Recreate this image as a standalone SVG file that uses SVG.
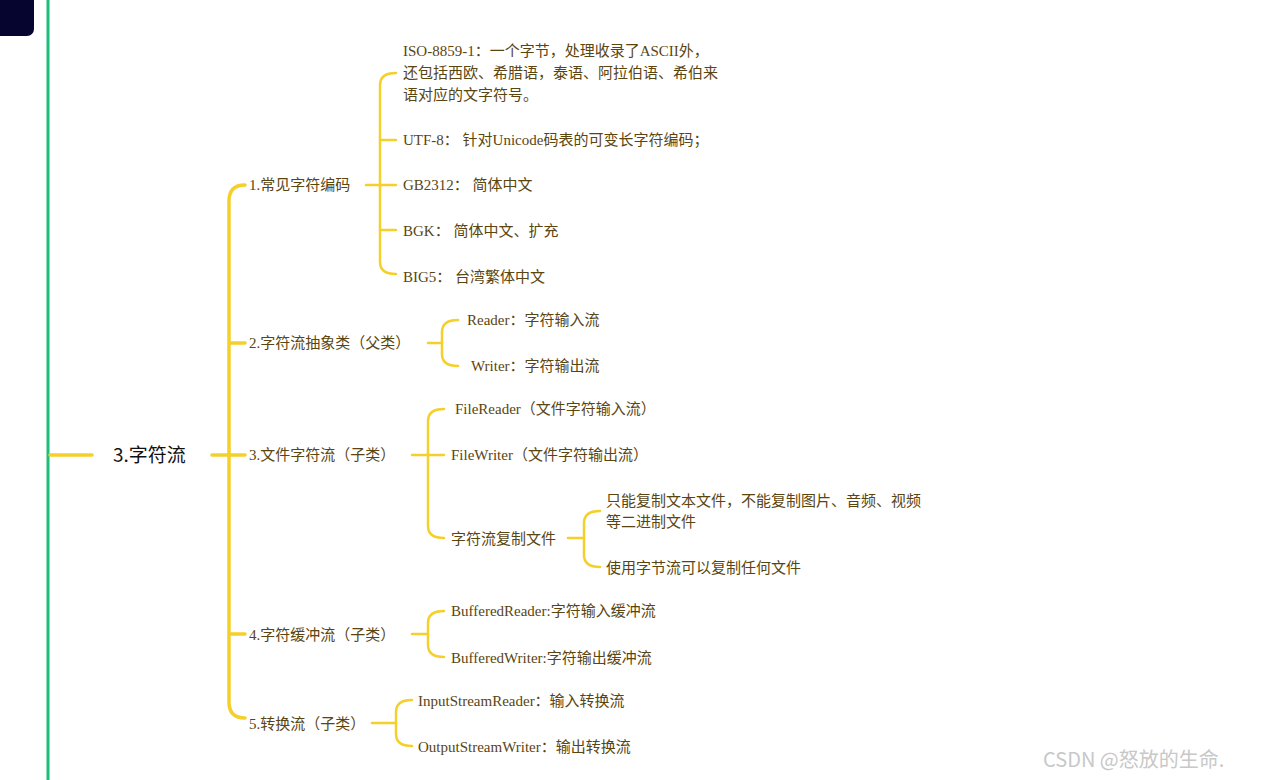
<svg xmlns="http://www.w3.org/2000/svg" width="1269" height="780" viewBox="0 0 1269 780">
<style>
.t{font-family:"Liberation Serif","Noto Sans CJK SC",serif;font-size:15px;fill:#5a4510}
.c{fill:none;stroke:#f5cf2a;stroke-width:2.5;stroke-linecap:round}
.c2{fill:none;stroke:#f5cf2a;stroke-width:3.5;stroke-linecap:round}
</style>
<rect x="0" y="0" width="1269" height="780" fill="#fff"/>
<rect x="-10" y="-10" width="44" height="46" rx="7" fill="#050530"/>
<line x1="48" y1="0" x2="48" y2="780" stroke="#1bbf7a" stroke-width="3"/>
<g id="connectors">
<path class="c2" d="M50 455H92"/>
<path class="c2" d="M212 455H229M245 185Q229 185 229 201V702Q229 718 245 718M229 343H245M229 455H245M229 634H245"/>
<path class="c" d="M366 185H380M396 73Q380 73 380 85V262Q380 274 396 274M380 140H396M380 185H396M380 230H396"/>
<path class="c" d="M428 343H442M458 320Q442 320 442 332V354Q442 366 458 366"/>
<path class="c" d="M412 455H428M444 409Q428 409 428 421V526Q428 538 444 538M428 455H444"/>
<path class="c" d="M568 538H584M600 511Q584 511 584 523V555Q584 567 600 567"/>
<path class="c" d="M412 634H428M444 611Q428 611 428 623V645Q428 657 444 657"/>
<path class="c" d="M372 723H396M412 700Q396 700 396 712V734Q396 746 412 746"/>
</g>
<g id="root"><text x="113" y="462" style="font-family:'Noto Sans CJK SC',sans-serif;font-size:19px;fill:#111">3.字符流</text></g>
<g id="n1"><text class="t" x="249" y="190">1.常见字符编码</text></g>
<g id="n11"><text class="t" x="403" y="56">ISO-8859-1：一个字节，处理收录了ASCII外，</text><text class="t" x="403" y="78">还包括西欧、希腊语，泰语、阿拉伯语、希伯来</text><text class="t" x="403" y="100">语对应的文字符号。</text></g>
<g id="n12"><text class="t" x="403" y="145">UTF-8：  针对Unicode码表的可变长字符编码；</text></g>
<g id="n13"><text class="t" x="403" y="190">GB2312：   简体中文</text></g>
<g id="n14"><text class="t" x="403" y="236">BGK： 简体中文、扩充</text></g>
<g id="n15"><text class="t" x="403" y="282">BIG5： 台湾繁体中文</text></g>
<g id="n2"><text class="t" x="249" y="348">2.字符流抽象类（父类）</text></g>
<g id="n21"><text class="t" x="467" y="325">Reader：字符输入流</text></g>
<g id="n22"><text class="t" x="471" y="371">Writer：字符输出流</text></g>
<g id="n3"><text class="t" x="249" y="460">3.文件字符流（子类）</text></g>
<g id="n31"><text class="t" x="455" y="414">FileReader（文件字符输入流）</text></g>
<g id="n32"><text class="t" x="451" y="460">FileWriter（文件字符输出流）</text></g>
<g id="n33"><text class="t" x="451" y="544">字符流复制文件</text></g>
<g id="n331"><text class="t" x="606" y="506">只能复制文本文件，不能复制图片、音频、视频</text><text class="t" x="606" y="527">等二进制文件</text></g>
<g id="n332"><text class="t" x="606" y="573">使用字节流可以复制任何文件</text></g>
<g id="n4"><text class="t" x="249" y="640">4.字符缓冲流（子类）</text></g>
<g id="n41"><text class="t" x="451" y="616">BufferedReader:字符输入缓冲流</text></g>
<g id="n42"><text class="t" x="451" y="663">BufferedWriter:字符输出缓冲流</text></g>
<g id="n5"><text class="t" x="249" y="729">5.转换流（子类）</text></g>
<g id="n51"><text class="t" x="418" y="706">InputStreamReader：输入转换流</text></g>
<g id="n52"><text class="t" x="418" y="752">OutputStreamWriter：输出转换流</text></g>
<text x="1043" y="767" style="font-family:'Noto Sans CJK SC',sans-serif;font-size:20px;fill:#c8c8c8">CSDN @怒放的生命.</text>
</svg>
